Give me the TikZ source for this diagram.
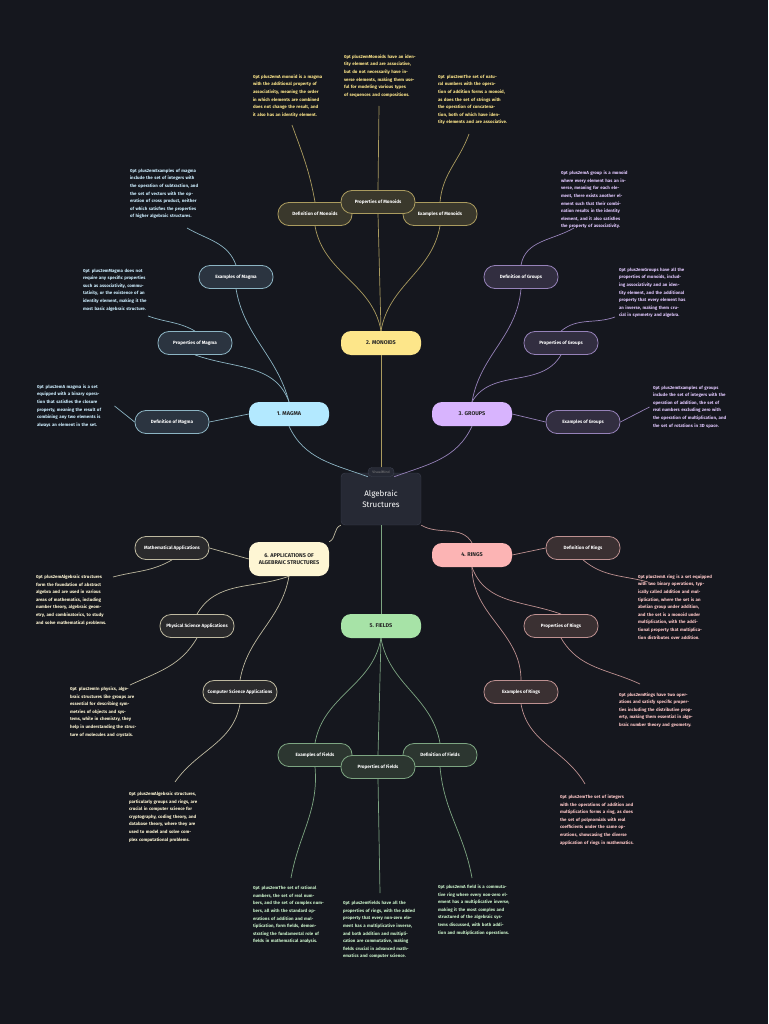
\documentclass[tikz,border=0pt]{standalone}
\usepackage{fontspec}
\setmainfont{Fira Sans}
\definecolor{bg}{RGB}{21,23,30}
\definecolor{rootf}{RGB}{38,41,52}\definecolor{rootd}{RGB}{60,64,78}
\definecolor{cMa}{RGB}{140,180,195}\definecolor{cMo}{RGB}{170,155,95}
\definecolor{cGr}{RGB}{150,130,185}\definecolor{cRi}{RGB}{190,145,145}
\definecolor{cFi}{RGB}{125,165,130}\definecolor{cAp}{RGB}{190,185,160}
\definecolor{mMa}{RGB}{179,233,255}\definecolor{mMo}{RGB}{253,230,138}
\definecolor{mGr}{RGB}{216,180,254}\definecolor{mRi}{RGB}{252,180,180}
\definecolor{mFi}{RGB}{167,227,167}\definecolor{mAp}{RGB}{254,246,212}
\definecolor{sMa}{RGB}{43,52,64}\definecolor{sMo}{RGB}{58,56,44}
\definecolor{sGr}{RGB}{50,46,64}\definecolor{sRi}{RGB}{58,48,50}
\definecolor{sFi}{RGB}{44,54,48}\definecolor{sAp}{RGB}{42,42,44}
\definecolor{tMa}{RGB}{205,238,255}\definecolor{tMo}{RGB}{253,230,138}
\definecolor{tGr}{RGB}{225,200,255}\definecolor{tRi}{RGB}{255,200,200}
\definecolor{tFi}{RGB}{200,240,200}\definecolor{tAp}{RGB}{254,246,212}
\begin{document}
\begin{tikzpicture}[x=1pt,y=-1pt,
  main/.style={draw=none,fill=#1,rounded corners=10pt,minimum width=80pt,minimum height=24pt,align=center,font=\fontsize{5.5}{7}\selectfont\bfseries,text=black!85},
  sub/.style 2 args={draw=#2,line width=0.8pt,fill=#1,rounded corners=11pt,minimum width=74pt,minimum height=23pt,font=\fontsize{4.6}{6}\selectfont\bfseries,text=white},
  desc/.style={text width=74pt,align=center,font=\fontsize{4.4}{7.6}\selectfont\bfseries\hyphenpenalty=10000\exhyphenpenalty=10000,text=#1},
  ln/.style={draw=#1,line width=0.7pt}]
\fill[bg] (0,0) rectangle (768,1024);
\useasboundingbox (0,0) rectangle (768,1024);
% root
\node[draw=rootd,fill=rootf,rounded corners=4pt,minimum width=80pt,minimum height=52pt,align=center,text=white,font=\fontsize{8}{11}\selectfont] (root) at (381,499) {Algebraic\\Structures};
\node[draw=rootd,fill=rootf,rounded corners=4pt,minimum width=26pt,minimum height=9pt,inner sep=1pt,text=gray,font=\fontsize{3.5}{4}\selectfont] (tab) at (381,472) {VisualMind};
% main nodes
\node[main=mMa] (ma) at (289,414) {1. MAGMA};
\node[main=mMo] (mo) at (381,343) {2. MONOIDS};
\node[main=mGr] (gr) at (472,414) {3. GROUPS};
\node[main=mRi] (ri) at (472,555) {4. RINGS};
\node[main=mFi] (fi) at (381,626) {5. FIELDS};
\node[main=mAp,minimum height=34pt] (ap) at (289,559) {6. APPLICATIONS OF\\ALGEBRAIC STRUCTURES};
% root edges
\draw[ln=cMa] (tab.south west) to[out=160,in=-65] (ma.south);
\draw[ln=cMo] (tab.north) -- (mo.south);
\draw[ln=cGr] (tab.south east) to[out=20,in=-115] (gr.south);
\draw[ln=cRi] (root.south east) to[out=-30,in=120] (ri.north);
\draw[ln=cFi] (root.south) -- (fi.north);
\draw[ln=cAp] (root.south west) to[out=-160,in=25] (ap.north east);
% ---- Magma
\node[sub={sMa}{cMa}] (ma1) at (172,422) {Definition of Magma};
\node[sub={sMa}{cMa}] (ma2) at (195,343) {Properties of Magma};
\node[sub={sMa}{cMa}] (ma3) at (236,277) {Examples of Magma};
\node[desc=tMa] (ma1t) at (74,406) {A magma is a set equipped with a binary operation that satisfies the closure property, meaning the result of combining any two elements is always an element in the set.};
\node[desc=tMa] (ma2t) at (120,290) {Magma does not require any specific properties such as associativity, commutativity, or the existence of an identity element, making it the most basic algebraic structure.};
\node[desc=tMa] (ma3t) at (167,194) {Examples of magma include the set of integers with the operation of subtraction, and the set of vectors with the operation of cross product, neither of which satisfies the properties of higher algebraic structures.};
\draw[ln=cMa] (ma.west) -- (ma1.east);
\draw[ln=cMa] (ma.north) to[out=110,in=-20] (ma2.south);
\draw[ln=cMa] (ma.north) to[out=105,in=-80] (ma3.south);
\draw[ln=cMa] (ma1.west) -- (ma1t.east);
\draw[ln=cMa] (ma2.north) to[out=150,in=-20] (148,316);
\draw[ln=cMa] (ma3.north) to[out=110,in=-30] (187,228);
% ---- Monoids
\node[sub={sMo}{cMo}] (mo1) at (315,214) {Definition of Monoids};
\node[sub={sMo}{cMo}] (mo3) at (440,214) {Examples of Monoids};
\node[sub={sMo}{cMo}] (mo2) at (378,202) {Properties of Monoids};
\node[desc=tMo] (mo1t) at (290,96) {A monoid is a magma with the additional property of associativity, meaning the order in which elements are combined does not change the result, and it also has an identity element.};
\node[desc=tMo] (mo2t) at (381,76) {Monoids have an identity element and are associative, but do not necessarily have inverse elements, making them useful for modeling various types of sequences and compositions.};
\node[desc=tMo] (mo3t) at (475,100) {The set of natural numbers with the operation of addition forms a monoid, as does the set of strings with the operation of concatenation, both of which have identity elements and are associative.};
\draw[ln=cMo] (mo.north) to[out=100,in=-80] (mo1.south);
\draw[ln=cMo] (mo.north) -- (mo2.south);
\draw[ln=cMo] (mo.north) to[out=80,in=-100] (mo3.south);
\draw[ln=cMo] (mo1.north) to[out=100,in=-70] (292,125);
\draw[ln=cMo] (mo2.north) -- (379,106);
\draw[ln=cMo] (mo3.north) to[out=85,in=-110] (469,134);
% ---- Groups
\node[sub={sGr}{cGr}] (gr1) at (521,277) {Definition of Groups};
\node[sub={sGr}{cGr}] (gr2) at (561,343) {Properties of Groups};
\node[sub={sGr}{cGr}] (gr3) at (583,422) {Examples of Groups};
\node[desc=tGr] (gr1t) at (598,200) {A group is a monoid where every element has an inverse, meaning for each element, there exists another element such that their combination results in the identity element, and it also satisfies the property of associativity.};
\node[desc=tGr] (gr2t) at (656,293) {Groups have all the properties of monoids, including associativity and an identity element, and the additional property that every element has an inverse, making them crucial in symmetry and algebra.};
\node[desc=tGr] (gr3t) at (690,407) {Examples of groups include the set of integers with the operation of addition, the set of real numbers excluding zero with the operation of multiplication, and the set of rotations in 3D space.};
\draw[ln=cGr] (gr.north) to[out=80,in=-95] (gr1.south);
\draw[ln=cGr] (gr.north) to[out=60,in=-120] (gr2.south);
\draw[ln=cGr] (gr.east) -- (gr3.west);
\draw[ln=cGr] (gr1.north) to[out=80,in=-150] (574,228);
\draw[ln=cGr] (gr2.north) to[out=40,in=-160] (615,317);
\draw[ln=cGr] (gr3.east) -- (gr3t.west);
% ---- Rings
\node[sub={sRi}{cRi}] (ri1) at (583,548) {Definition of Rings};
\node[sub={sRi}{cRi}] (ri2) at (561,626) {Properties of Rings};
\node[sub={sRi}{cRi}] (ri3) at (521,692) {Examples of Rings};
\node[desc=tRi] (ri1t) at (675,607) {A ring is a set equipped with two binary operations, typically called addition and multiplication, where the set is an abelian group under addition, and the set is a monoid under multiplication, with the additional property that multiplication distributes over addition.};
\node[desc=tRi] (ri2t) at (656,710) {Rings have two operations and satisfy specific properties including the distributive property, making them essential in algebraic number theory and geometry.};
\node[desc=tRi] (ri3t) at (597,820) {The set of integers with the operations of addition and multiplication forms a ring, as does the set of polynomials with real coefficients under the same operations, showcasing the diverse application of rings in mathematics.};
\draw[ln=cRi] (ri.east) -- (ri1.west);
\draw[ln=cRi] (ri.south) to[out=-70,in=160] (ri2.north);
\draw[ln=cRi] (ri.south) to[out=-90,in=90] (ri3.north);
\draw[ln=cRi] (ri1.south) to[out=-40,in=165] (648,582);
\draw[ln=cRi] (ri2.south) to[out=-60,in=155] (640,684);
\draw[ln=cRi] (ri3.south) to[out=-80,in=120] (585,784);
% ---- Fields
\node[sub={sFi}{cFi}] (fi1) at (315,755) {Examples of Fields};
\node[sub={sFi}{cFi}] (fi3) at (440,755) {Definition of Fields};
\node[sub={sFi}{cFi}] (fi2) at (378,767) {Properties of Fields};
\node[desc=tFi] (fi1t) at (290,915) {The set of rational numbers, the set of real numbers, and the set of complex numbers, all with the standard operations of addition and multiplication, form fields, demonstrating the fundamental role of fields in mathematical analysis.};
\node[desc=tFi] (fi2t) at (380,930) {Fields have all the properties of rings, with the added property that every non-zero element has a multiplicative inverse, and both addition and multiplication are commutative, making fields crucial in advanced mathematics and computer science.};
\node[desc=tFi] (fi3t) at (475,910) {A field is a commutative ring where every non-zero element has a multiplicative inverse, making it the most complex and structured of the algebraic systems discussed, with both addition and multiplication operations.};
\draw[ln=cFi] (fi.south) to[out=-100,in=80] (fi1.north);
\draw[ln=cFi] (fi.south) -- (fi2.north);
\draw[ln=cFi] (fi.south) to[out=-80,in=100] (fi3.north);
\draw[ln=cFi] (fi1.south) to[out=-85,in=80] (291,878);
\draw[ln=cFi] (fi2.south) -- (380,893);
\draw[ln=cFi] (fi3.south) to[out=-85,in=100] (472,878);
% ---- Applications
\node[sub={sAp}{cAp}] (ap1) at (172,548) {Mathematical Applications};
\node[sub={sAp}{cAp}] (ap2) at (197,626) {Physical Science Applications};
\node[sub={sAp}{cAp}] (ap3) at (240,692) {Computer Science Applications};
\node[desc=tAp] (ap1t) at (73,600) {Algebraic structures form the foundation of abstract algebra and are used in various areas of mathematics, including number theory, algebraic geometry, and combinatorics, to study and solve mathematical problems.};
\node[desc=tAp] (ap2t) at (107,712) {In physics, algebraic structures like groups are essential for describing symmetries of objects and systems, while in chemistry, they help in understanding the structure of molecules and crystals.};
\node[desc=tAp] (ap3t) at (166,817) {Algebraic structures, particularly groups and rings, are crucial in computer science for cryptography, coding theory, and database theory, where they are used to model and solve complex computational problems.};
\draw[ln=cAp] (ap.west) -- (ap1.east);
\draw[ln=cAp] (ap.south) to[out=-160,in=60] (ap2.north);
\draw[ln=cAp] (ap.south) to[out=-100,in=80] (ap3.north);
\draw[ln=cAp] (ap1.south) to[out=-150,in=15] (113,577);
\draw[ln=cAp] (ap2.south) to[out=-120,in=25] (130,685);
\draw[ln=cAp] (ap3.south) to[out=-100,in=55] (175,782);
\end{tikzpicture}
\end{document}
